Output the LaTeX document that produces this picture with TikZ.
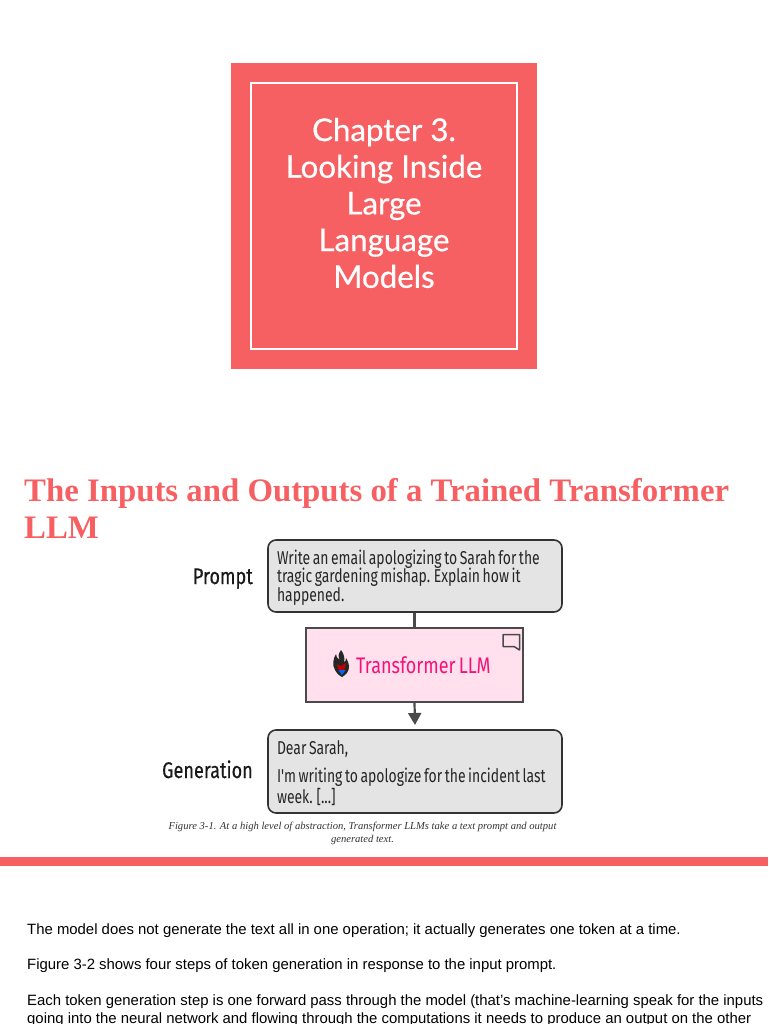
\documentclass[tikz,border=0pt]{standalone}
\usepackage{fontspec}
\usetikzlibrary{arrows.meta}
\setmainfont{Liberation Sans}
\newfontfamily\titlefont[FakeBold=0.5]{Lato}
\newfontfamily\headfont{Liberation Serif}
\newfontfamily\figfont[FakeStretch=0.80,WordSpace=0.7]{Fira Sans}
\newfontfamily\boxfont[FakeStretch=0.75,WordSpace=0.7]{Fira Sans}
\newfontfamily\sidefont[FakeStretch=0.80,WordSpace=0.7,FakeBold=0.4]{Fira Sans}
\definecolor{coral}{HTML}{F66063}
\definecolor{boxgray}{HTML}{E4E4E4}
\definecolor{boxpink}{HTML}{FFE0EC}
\definecolor{llmpink}{HTML}{F5107A}
\definecolor{edgegray}{HTML}{4A4A4A}

\begin{document}
\begin{tikzpicture}[x=1pt,y=-1pt]
	\tikzstyle{heading}=[text=coral,anchor=base west,inner sep=0pt,font=\headfont\bfseries\fontsize{32.8}{37}\selectfont,align=left]
	\tikzstyle{bubble}=[rounded corners=8pt,draw=black!80,line width=1.6pt,fill=boxgray,minimum width=294pt,text width=276pt,align=flush left,inner sep=0pt,text=black!85,font=\boxfont\fontsize{18.6}{18.5}\selectfont]
	\tikzstyle{side label}=[anchor=base east,inner sep=0pt,text=black!90,font=\sidefont\fontsize{22.6}{24}\selectfont]
	\tikzstyle{body}=[anchor=base west,inner sep=0pt,font=\fontsize{14.9}{17}\selectfont]
	\tikzstyle{link}=[draw=edgegray,line width=2.2pt]

	\useasboundingbox (0,0) rectangle (768,1024);
	\clip (0,0) rectangle (768,1024);

	% chapter card
	\node [fill=coral,minimum size=306pt,inner sep=0pt](card) at (384,216){};
	\node [draw=white,line width=1.6pt,minimum size=266pt,inner sep=0pt](frame) at (384,216){};
	\node [inner sep=0pt,text=white,align=center,font=\titlefont\fontsize{31.3}{36.7}\selectfont](title) at (384,203)
		{Chapter 3.\\Looking Inside\\Large\\Language\\Models};

	\node [heading](head) at (24,538){The Inputs and Outputs of a Trained Transformer\\LLM};

	% figure
	\node [bubble,minimum height=72pt](prompt) at (415,576)
		{\rule{0pt}{17pt}Write an email apologizing to Sarah for the\\tragic gardening mishap. Explain how it\\happened.};
	\node [draw=edgegray,line width=1.3pt,fill=boxpink,minimum width=217pt,minimum height=74pt,inner sep=0pt](llm) at (414.5,665){};
	\node [inner sep=0pt,anchor=base west,text=llmpink,font=\figfont\fontsize{22.5}{24}\selectfont](llmtext) at (356,673){Transformer LLM};
	\node [bubble,minimum height=83pt](generation) at (415,771.5)
		{\rule{0pt}{17pt}Dear Sarah,\\[9.5pt]I'm writing to apologize for the incident last\\week. [...]};
	\coordinate (tip) at (415,725);
	\draw [link] (prompt.south -| llm.north) -- (llm.north);
	\draw [link,-{Triangle[length=12pt,width=13pt]}] (llm.south) -- (tip);

	\node [side label](promptlabel) at (253,584){Prompt};
	\node [side label](generationlabel) at (253,778){Generation};

	% flame logo
	\fill [black!85] (341,650) .. controls (338,654) and (338,657) .. (340,660) .. controls (337,659) and (336,656) .. (336,654) .. controls (333,659) and (332,665) .. (335,670) .. controls (337,674) and (340,676) .. (342,677) .. controls (346,675) and (349,671) .. (349,667) .. controls (349,663) and (347,660) .. (346,658) .. controls (346,661) and (345,662) .. (344,662) .. controls (345,658) and (344,654) .. (341,650) -- cycle;
	\fill [red!75!black] (337,664) -- (341,666) -- (346,663) -- (345,669) -- (341,671) -- (338,669) -- cycle;
	\fill [blue!60!cyan] (338.5,670) -- (345.5,670) -- (342,675) -- cycle;

	% chat icon
	\draw [edgegray,line width=1.5pt,line join=round] (503,634.5) -- (519.5,634.5) -- (519.5,650) -- (514,646.5) -- (503,646.5) -- cycle;

	\node [inner sep=0pt,anchor=base,text=black!80,align=center,font=\headfont\itshape\fontsize{10.6}{12.8}\selectfont](caption) at (362.5,842)
		{Figure 3-1. At a high level of abstraction, Transformer LLMs take a text prompt and output\\generated text.};

	\node [fill=coral,minimum width=768pt,minimum height=9pt,inner sep=0pt](bar) at (384,861.5){};

	% body text
	\node [body](line a) at (27,934){The model does not generate the text all in one operation; it actually generates one token at a time.};
	\node [body](line b) at (27,969){Figure 3-2 shows four steps of token generation in response to the input prompt.};
	\node [body](line c) at (27,1005.5){Each token generation step is one forward pass through the model (that's machine-learning speak for the inputs};
	\node [body](line d) at (27,1023){going into the neural network and flowing through the computations it needs to produce an output on the other};
\end{tikzpicture}
\end{document}
